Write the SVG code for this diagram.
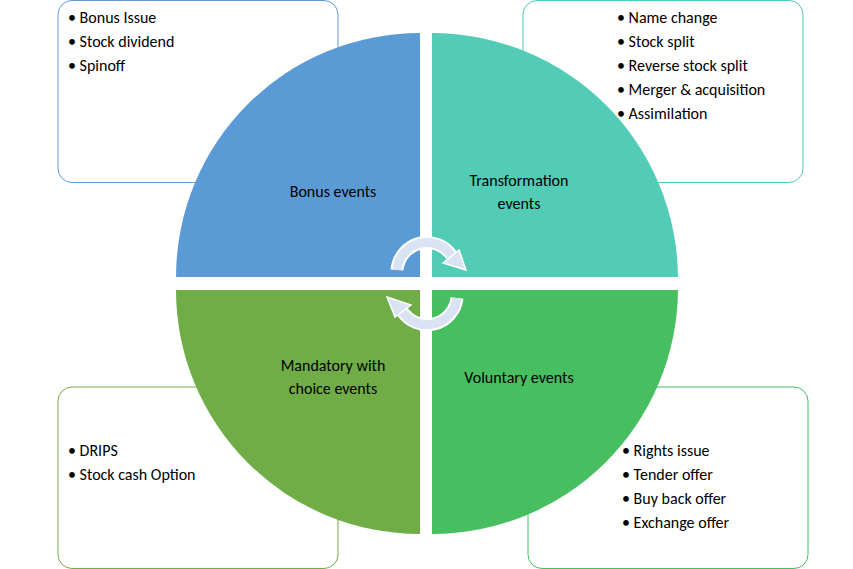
<svg xmlns="http://www.w3.org/2000/svg" width="853" height="569" viewBox="0 0 853 569">
<style>
text{font-family:Calibri,"Liberation Sans",Carlito,sans-serif;font-size:16px;fill:#000}
.box{fill:#fff;stroke-width:1}
.arc{fill:none;stroke-linecap:butt}
</style>
<rect width="853" height="569" fill="#fff"/>
<g id="box-bonus"><rect class="box" x="58" y="0.5" width="280" height="182" rx="14" stroke="#5b9bd5"/>
<text x="68" y="23">• Bonus Issue</text><text x="68" y="47">• Stock dividend</text><text x="68" y="71">• Spinoff</text></g>
<g id="box-transform"><rect class="box" x="523" y="0.5" width="280" height="182" rx="14" stroke="#4fc9b7"/>
<text x="617" y="23">• Name change</text><text x="617" y="47">• Stock split</text><text x="617" y="71">• Reverse stock split</text><text x="617" y="95">• Merger &amp; acquisition</text><text x="617" y="119">• Assimilation</text></g>
<g id="box-mandatory"><rect class="box" x="58" y="387" width="280" height="181.5" rx="14" stroke="#70ad47"/>
<text x="68" y="456">• DRIPS</text><text x="68" y="480">• Stock cash Option</text></g>
<g id="box-voluntary"><rect class="box" x="528" y="387" width="280" height="181.5" rx="14" stroke="#46bf5f"/>
<text x="622" y="456">• Rights issue</text><text x="622" y="480">• Tender offer</text><text x="622" y="504">• Buy back offer</text><text x="622" y="528">• Exchange offer</text></g>
<g id="q-bonus"><path d="M420,277 L176,277 A244,244 0 0 1 420,33 Z" fill="#5b9bd5"/><text x="333" y="197" text-anchor="middle">Bonus events</text></g>
<g id="q-transform"><path d="M432,277 L432,33 A246,246 0 0 1 678,277 Z" fill="#52cbb7"/><text x="519" y="186" text-anchor="middle">Transformation</text><text x="519" y="209" text-anchor="middle">events</text></g>
<g id="q-mandatory"><path d="M420,290 L420,534 A244,244 0 0 1 176,290 Z" fill="#70ad47"/><text x="333" y="371" text-anchor="middle">Mandatory with</text><text x="333" y="394" text-anchor="middle">choice events</text></g>
<g id="q-voluntary"><path d="M432,290 L678,290 A246,246 0 0 1 432,534 Z" fill="#47bf60"/><text x="519" y="383" text-anchor="middle">Voluntary events</text></g>
<g id="connectors">
<path d="M397,270 A30,30 0 0 1 452,256" class="arc" stroke="#fff" stroke-width="13"/>
<path d="M397,270 A30,30 0 0 1 452,256" class="arc" stroke="#dae3f3" stroke-width="9"/>
<polygon points="443,263 459,250 466,270" fill="#dae3f3" stroke="#fff" stroke-width="1.5"/>
<path d="M457,298 A30,30 0 0 1 402,311" class="arc" stroke="#fff" stroke-width="13"/>
<path d="M457,298 A30,30 0 0 1 402,311" class="arc" stroke="#dae3f3" stroke-width="9"/>
<polygon points="411,305 395,317 387,297" fill="#dae3f3" stroke="#fff" stroke-width="1.5"/>
</g>
</svg>
